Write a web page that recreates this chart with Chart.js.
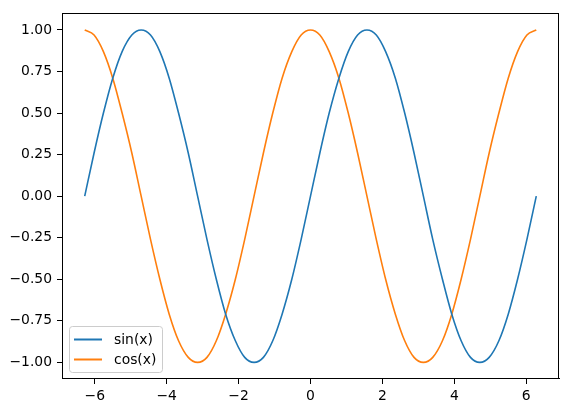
<!DOCTYPE html>
<html lang="en">
<head>
    <meta charset="UTF-8">
    <title>sin(x) and cos(x)</title>
    <script src="https://cdn.jsdelivr.net/npm/chart.js"></script>
    <style>
        body { margin: 0; background: #fff; }
        #wrap { position: relative; width: 568px; height: 413px; }
    </style>
</head>
<body>
    <div id="wrap"><canvas id="waveChart"></canvas></div>
    <script>
        // x positions (steps of about 0.26)
        const xValues = [-6.28, -6.02, -5.76, -5.50, -5.24, -4.97, -4.71, -4.45, -4.19, -3.93, -3.67, -3.40,
            -3.14, -2.88, -2.62, -2.36, -2.09, -1.83, -1.57, -1.31, -1.05, -0.79, -0.52, -0.26,
            0, 0.26, 0.52, 0.79, 1.05, 1.31, 1.57, 1.83, 2.09, 2.36, 2.62, 2.88,
            3.14, 3.40, 3.67, 3.93, 4.19, 4.45, 4.71, 4.97, 5.24, 5.50, 5.76, 6.02, 6.28];
        const sinValues = [0, 0.26, 0.5, 0.71, 0.87, 0.97, 1, 0.97, 0.87, 0.71, 0.5, 0.26,
            0, -0.26, -0.5, -0.71, -0.87, -0.97, -1, -0.97, -0.87, -0.71, -0.5, -0.26,
            0, 0.26, 0.5, 0.71, 0.87, 0.97, 1, 0.97, 0.87, 0.71, 0.5, 0.26,
            0, -0.26, -0.5, -0.71, -0.87, -0.97, -1, -0.97, -0.87, -0.71, -0.5, -0.26, 0];
        const cosValues = [1, 0.97, 0.87, 0.71, 0.5, 0.26, 0, -0.26, -0.5, -0.71, -0.87, -0.97,
            -1, -0.97, -0.87, -0.71, -0.5, -0.26, 0, 0.26, 0.5, 0.71, 0.87, 0.97,
            1, 0.97, 0.87, 0.71, 0.5, 0.26, 0, -0.26, -0.5, -0.71, -0.87, -0.97,
            -1, -0.97, -0.87, -0.71, -0.5, -0.26, 0, 0.26, 0.5, 0.71, 0.87, 0.97, 1];
        const seriesLabels = ['sin(x)', 'cos(x)'];
        const xTicks = [-6, -4, -2, 0, 2, 4, 6];
        const yTicks = [-1, -0.75, -0.5, -0.25, 0, 0.25, 0.5, 0.75, 1];

        const tickFont = { family: 'DejaVu Sans', size: 13.9 };
        const minus = s => s.replace('-', '\u2212');

        const frame = {
            id: 'frame',
            afterDatasetsDraw(chart) {
                const { ctx, chartArea: a } = chart;
                ctx.save();
                ctx.strokeStyle = '#000';
                ctx.lineWidth = 1;
                ctx.strokeRect(Math.round(a.left) + 0.5, Math.round(a.top) + 0.5,
                    Math.round(a.right - a.left) - 1, Math.round(a.bottom - a.top) - 1);

                // legend, lower left inside the axes
                const x0 = a.left + 7, y0 = a.bottom - 53, w = 93, h = 46;
                ctx.beginPath();
                ctx.roundRect(x0 + 0.5, y0 + 0.5, w, h, 3);
                ctx.fillStyle = 'rgba(255,255,255,0.8)';
                ctx.fill();
                ctx.strokeStyle = '#cccccc';
                ctx.stroke();
                ctx.font = '13.9px "DejaVu Sans"';
                ctx.textBaseline = 'middle';
                chart.data.datasets.forEach((ds, i) => {
                    const yy = y0 + 13.5 + i * 20;
                    ctx.strokeStyle = ds.borderColor;
                    ctx.lineWidth = 2;
                    ctx.beginPath();
                    ctx.moveTo(x0 + 5, yy);
                    ctx.lineTo(x0 + 33, yy);
                    ctx.stroke();
                    ctx.fillStyle = '#000';
                    ctx.fillText(ds.label, x0 + 45, yy + 1);
                });
                ctx.restore();
            }
        };

        new Chart(document.getElementById('waveChart'), {
            type: 'line',
            data: {
                datasets: [
                    {
                        label: seriesLabels[0],
                        data: xValues.map((x, i) => ({ x: x, y: sinValues[i] })),
                        borderColor: '#1f77b4',
                        borderWidth: 1.6,
                        pointRadius: 0,
                        cubicInterpolationMode: 'monotone'
                    },
                    {
                        label: seriesLabels[1],
                        data: xValues.map((x, i) => ({ x: x, y: cosValues[i] })),
                        borderColor: '#ff7f0e',
                        borderWidth: 1.6,
                        pointRadius: 0,
                        cubicInterpolationMode: 'monotone'
                    }
                ]
            },
            options: {
                responsive: true,
                maintainAspectRatio: false,
                animation: false,
                layout: { padding: { top: 10, right: 9, left: 0, bottom: 0 } },
                plugins: { legend: { display: false }, tooltip: { enabled: false } },
                scales: {
                    x: {
                        type: 'linear',
                        min: -6.912,
                        max: 6.912,
                        afterBuildTicks: s => { s.ticks = xTicks.map(v => ({ value: v })); },
                        afterFit: s => { s.height = 34; },
                        grid: { drawOnChartArea: false, drawTicks: true, tickLength: 5, color: '#000' },
                        border: { display: true, color: '#000', width: 1 },
                        ticks: {
                            color: '#000', font: tickFont, padding: 4, maxRotation: 0,
                            callback: v => minus(String(v))
                        }
                    },
                    y: {
                        min: -1.1,
                        max: 1.1,
                        afterBuildTicks: s => { s.ticks = yTicks.map(v => ({ value: v })); },
                        afterFit: s => { s.width = 62; },
                        grid: { drawOnChartArea: false, drawTicks: true, tickLength: 5, color: '#000' },
                        border: { display: true, color: '#000', width: 1 },
                        ticks: {
                            color: '#000', font: tickFont, padding: 5,
                            callback: v => minus(v.toFixed(2))
                        }
                    }
                }
            },
            plugins: [frame]
        });
    </script>
</body>
</html>
